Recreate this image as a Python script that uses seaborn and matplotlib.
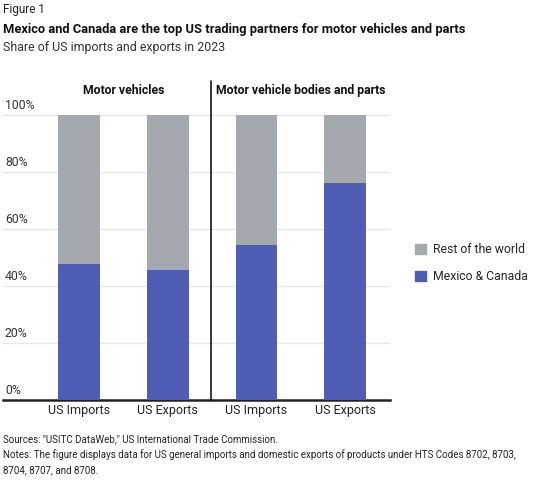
import pandas as pd
import seaborn as sns
import matplotlib.pyplot as plt
from matplotlib.patches import Patch

# Share of US trade with Mexico & Canada, 2023 (percent)
bar_ids = ['mv_imp', 'mv_exp', 'bp_imp', 'bp_exp']
bar_labels = ['US Imports', 'US Exports', 'US Imports', 'US Exports']
groups = ['Motor vehicles', 'Motor vehicle bodies and parts']
mex_can = [47.7, 45.6, 54.4, 76.1]
total = [100, 100, 100, 100]
yticks = [0, 20, 40, 60, 80, 100]

BLUE = '#505DB4'
GRAY = '#A3A9AF'

sns.set_theme(style='white')
plt.rcParams['font.family'] = ['Roboto', 'DejaVu Sans']

df = pd.DataFrame({'bar': bar_ids, 'mexcan': mex_can, 'total': total})

fig = plt.figure(figsize=(5.6, 4.96), dpi=100)
ax = fig.add_axes([3 / 560, 1 - 400 / 496, 387 / 560, 319 / 496])

sns.barplot(data=df, x='bar', y='total', color=GRAY, width=0.47,
            saturation=1, linewidth=0, ax=ax, zorder=2)
sns.barplot(data=df, x='bar', y='mexcan', color=BLUE, width=0.47,
            saturation=1, linewidth=0, ax=ax, zorder=3)

ax.set_xlim(-0.857, 3.507)
ax.set_ylim(0, 112)
ax.set_xlabel('')
ax.set_ylabel('')
ax.set_yticks([])
ax.set_xticks(range(4))
ax.set_xticklabels(bar_labels, fontsize=9, color='#222222')
ax.tick_params(axis='x', length=0, pad=3)
for s in ['top', 'right', 'left']:
    ax.spines[s].set_visible(False)
ax.spines['bottom'].set_color('#222222')
ax.spines['bottom'].set_linewidth(1.8)

# gridlines with labels sitting above them
for t in yticks:
    if t > 0:
        ax.axhline(t, color='#e6e6e6', lw=0.9, zorder=1)
    ax.text(-0.835, t + 1.2, f'{t}%', fontsize=8.8, color='#333333',
            ha='left', va='bottom')

# divider between the two groups
ax.plot([1.49, 1.49], [0, 112], color='black', lw=1.1, zorder=4, clip_on=False)
ax.text(0.5, 108.8, groups[0], fontsize=8.8, fontweight='bold',
        ha='center', va='center', color='#111111')
ax.text(2.5, 108.8, groups[1], fontsize=8.8, fontweight='bold',
        ha='center', va='center', color='#111111')

handles = [Patch(color=GRAY), Patch(color=BLUE)]
fig.legend(handles, ['Rest of the world', 'Mexico & Canada'],
           loc='upper left', bbox_to_anchor=(410 / 560, 1 - 238 / 496),
           frameon=False, fontsize=8.8, handlelength=0.9, handleheight=0.9,
           handletextpad=0.6, labelspacing=1.15, borderaxespad=0)

fig.text(3 / 560, 1 - 10 / 496, 'Figure 1', fontsize=8.5, color='#222222',
         va='center', ha='left')
fig.text(3 / 560, 1 - 29 / 496,
         'Mexico and Canada are the top US trading partners for motor vehicles and parts',
         fontsize=9.3, fontweight='bold', color='#111111', va='center', ha='left')
fig.text(3 / 560, 1 - 47 / 496, 'Share of US imports and exports in 2023',
         fontsize=8.9, color='#333333', va='center', ha='left')

fig.text(3 / 560, 1 - 439 / 496,
         'Sources: "USITC DataWeb," US International Trade Commission.',
         fontsize=7.0, color='#222222', va='center', ha='left')
fig.text(3 / 560, 1 - 455 / 496,
         'Notes: The figure displays data for US general imports and domestic exports of products under HTS Codes 8702, 8703,',
         fontsize=7.0, color='#222222', va='center', ha='left')
fig.text(3 / 560, 1 - 470 / 496, '8704, 8707, and 8708.',
         fontsize=7.0, color='#222222', va='center', ha='left')

fig.savefig('out.png', dpi=100)
